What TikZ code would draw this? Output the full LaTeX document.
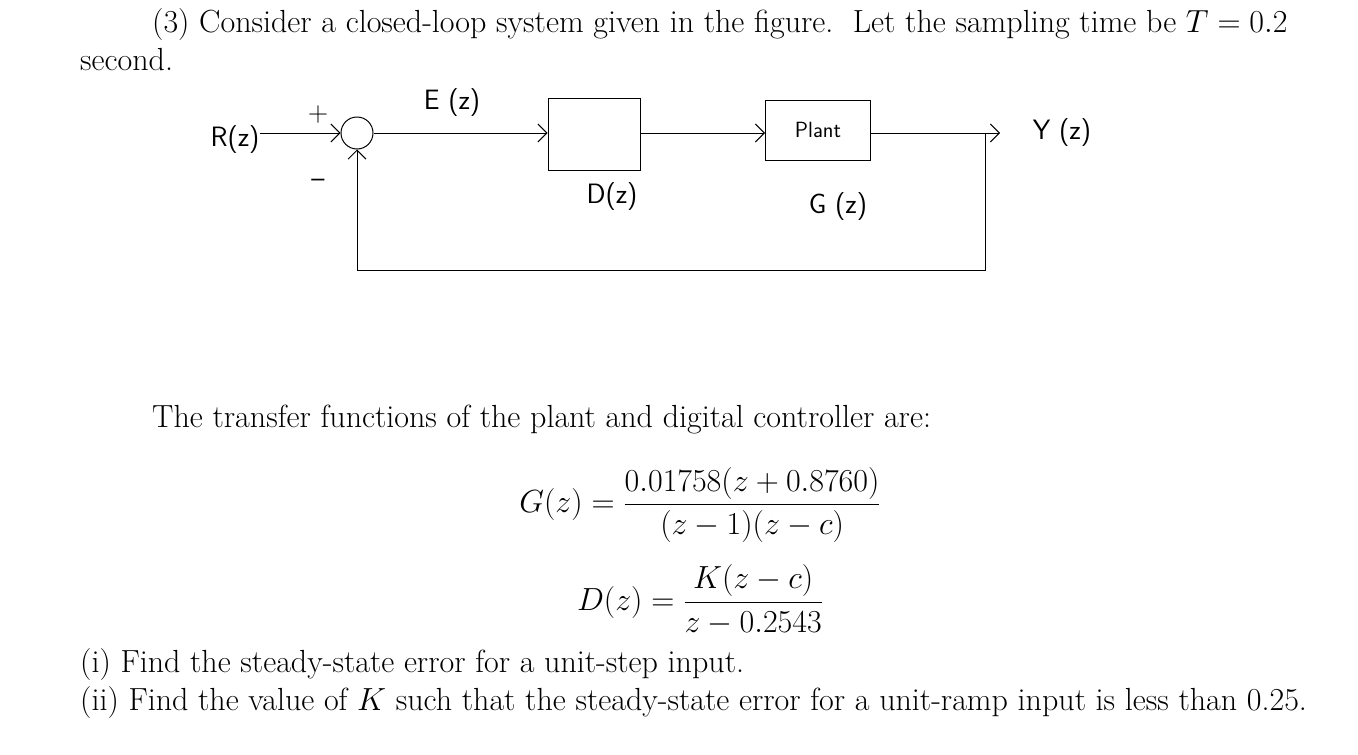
\RequirePackage{fix-cm}
\documentclass[tikz,border=0pt]{standalone}
\usepackage{amsmath}
\usetikzlibrary{arrows.meta}
\begin{document}
\begin{tikzpicture}[x=1pt,y=-1pt,
  txt/.style={font=\fontsize{32}{37}\selectfont, inner sep=0pt},
  hand/.style={font=\sffamily\fontsize{28}{30}\selectfont, inner sep=0pt},
  blk/.style={draw, line width=1pt, minimum width=#1},
  sig/.style={line width=0.9pt, -{Straight Barb[length=9pt]}}]
\useasboundingbox (0,0) rectangle (1358,755);
\node[txt, anchor=west] (l1) at (152,25) {(3) Consider a closed-loop system given in the figure.\ \ Let the sampling time be $T=0.2$};
\node[txt, anchor=west] (l2) at (80,60) {second.};
% diagram
\node[hand] (R) at (235,140) {R(z)};
\node[draw, circle, line width=1pt, minimum size=32pt, inner sep=0pt] (S) at (357,133) {};
\node[hand] (plus) at (318,115) {+};
\node[hand] (minus) at (318,183) {--};
\node[hand] (E) at (452,103) {E (z)};
\node[blk=92pt, minimum height=72pt] (D) at (594,134) {};
\node[hand] (Dl) at (612,197) {D(z)};
\node[blk=105pt, minimum height=60pt, font=\sffamily\fontsize{22}{24}\selectfont] (G) at (818,130) {Plant};
\node[hand] (Gl) at (838,207) {G (z)};
\node[hand] (Y) at (1062,133) {Y (z)};
\coordinate (out) at (1000,133);
\coordinate (br) at (985,270);
\coordinate (bl) at (357,270);
\draw[sig] (R.east |- S.west) -- (S.west);
\draw[sig] (S.east) -- (D.west |- S.east);
\draw[sig] (D.east |- S.east) -- (G.west |- S.east);
\draw[sig] (G.east |- out) -- (out);
\draw[sig] (985,133) -- (br) -- (bl) -- (S.south);
% text
\node[txt, anchor=west] (t1) at (152,420) {The transfer functions of the plant and digital controller are:};
\node[txt] (eqG) at (700,505) {$\displaystyle G(z)=\frac{0.01758(z+0.8760)}{(z-1)(z-c)}$};
\node[txt] (eqD) at (700,600) {$\displaystyle D(z)=\frac{K(z-c)}{z-0.2543}$};
\node[txt, anchor=west] (q1) at (80,665) {(i) Find the steady-state error for a unit-step input.};
\node[txt, anchor=west] (q2) at (80,703) {(ii) Find the value of $K$ such that the steady-state error for a unit-ramp input is less than 0.25.};
\end{tikzpicture}
\end{document}
